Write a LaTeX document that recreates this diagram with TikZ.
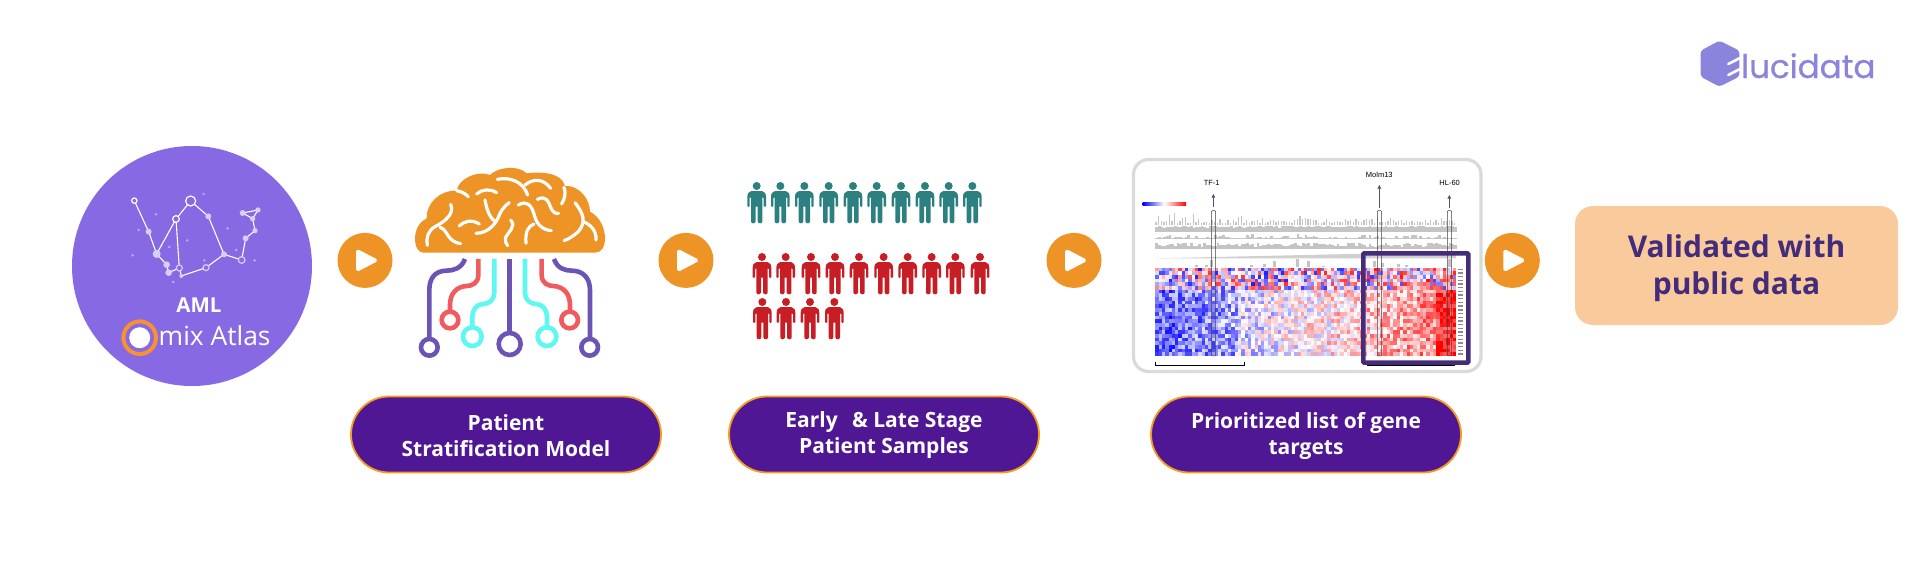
\documentclass[tikz,border=0pt]{standalone}
\usepackage{fontspec}
\setmainfont{Open Sans}
\newfontfamily\lab{Liberation Sans}
\newfontfamily\logo[FakeBold=0.5]{Poppins}
\usetikzlibrary{arrows.meta}
\definecolor{purp}{HTML}{8769E4}
\definecolor{lil}{HTML}{D5CEF5}
\definecolor{orng}{HTML}{EE9325}
\definecolor{ringc}{HTML}{F79233}
\definecolor{pillc}{HTML}{501795}
\definecolor{pilledge}{HTML}{F79A1E}
\definecolor{boxc}{HTML}{F9CB9C}
\definecolor{dark}{HTML}{452C7A}
\definecolor{logoc}{HTML}{8A84DC}
\definecolor{cvio}{HTML}{6C54B5}
\definecolor{cred}{HTML}{EF5B5E}
\definecolor{ccy}{HTML}{5FF7F2}
\definecolor{tealc}{HTML}{2C8080}
\definecolor{redm}{HTML}{C71D24}
\definecolor{framec}{HTML}{DADADA}
\definecolor{bars}{HTML}{C4C4C4}
\definecolor{ptrc}{HTML}{4A5870}
\tikzset{
  pillbox/.style={draw=pilledge,line width=1.8pt,fill=pillc,rounded corners=38pt,minimum width=310pt,minimum height=76pt,inner sep=0pt},
  pilltext/.style={text=white,align=center,inner sep=0pt,font=\fontsize{21}{26}\selectfont\bfseries},
  playbtn/.style={circle,fill=orng,minimum size=55pt,inner sep=0pt},
  wire/.style={line width=4.6pt},
  wring/.style={line width=4.6pt,fill=white},
  squig/.style={draw=white,line width=3.2pt,line cap=round,line join=round},
  cstar/.style={draw=white,line width=1.1pt,line join=round},
  cdot/.style={fill=lil},
  cringa/.style={draw=white,line width=1.2pt,fill=purp},
  cringb/.style={draw=lil,line width=1.2pt,fill=purp},
  speck/.style={fill=lil!70!purp},
  hlcol/.style={draw=black!75,line width=.5pt},
  ptr/.style={draw=ptrc,line width=.6pt,-{Triangle[length=3.5pt,width=3.5pt]}},
  tag/.style={font=\lab\fontsize{7.5}{8}\selectfont,text=black,inner sep=0pt}
}
\newcommand{\person}[3]{% x y colour, in px; anchored at head centre
 \begin{scope}[shift={(#1,#2)},x=0.3333pt,y=-0.3333pt]
  \fill[#3] (0,0) circle (12);
  \fill[#3] (-16,15) -- (16,15) .. controls (25,16) and (28,24) .. (28,34) -- (28,60) .. controls (28,64) and (21,64) .. (21,60) -- (21,36) -- (17,34) -- (17,106) .. controls (17,114) and (4,114) .. (3,106) -- (3,62) -- (-3,62) -- (-3,106) .. controls (-4,114) and (-17,114) .. (-17,106) -- (-17,34) -- (-21,36) -- (-21,60) .. controls (-21,64) and (-28,64) .. (-28,60) -- (-28,34) .. controls (-28,24) and (-25,16) .. (-16,15) -- cycle;
 \end{scope}}
\begin{document}
\begin{tikzpicture}[x=1pt,y=-1pt]
\useasboundingbox (0,0) rectangle (1920,574);
\fill[white] (0,0) rectangle (1920,574);

% ---------- circle ----------
\node[circle,fill=purp,minimum size=240pt,inner sep=0pt] (atlas) at (192,266) {};
\begin{scope}[shift={(50,130)},x=0.3333pt,y=-0.3333pt]
 \foreach \a/\b in {461/192,318/253,266/300,533/295,412/331,358/351,248/376,559/360,463/391,614/391,370/456}
   {\fill[speck] (\a,\b) circle (4);}
 \draw[cstar] (253,212) -- (296,305) -- (320,372) -- (350,404) -- (356,428) -- (388,414) -- (378,267) -- (320,372);
 \draw[cstar] (378,267) -- (422,213) -- (475,259) -- (522,373) -- (468,413) -- (394,438) -- (388,414);
 \draw[cstar] (522,373) -- (575,390) -- (587,325) -- (615,302) -- (608,266) -- (578,249) -- (624,240) -- (608,266);
 \foreach \a/\b/\q in {296/305/9,320/372/12,350/404/10,356/428/10,475/259/9,522/373/9,394/438/6,587/325/9,615/302/8,608/266/8,578/249/9,624/240/8}
   {\fill[cdot] (\a,\b) circle (\q);}
 \foreach \a/\b/\q in {253/212/8,378/267/10,422/213/15}
   {\draw[cringa] (\a,\b) circle (\q);}
 \foreach \a/\b/\q in {388/414/9,468/413/9,575/390/10}
   {\draw[cringb] (\a,\b) circle (\q);}
\end{scope}
\node[font=\fontsize{20.5}{21}\selectfont\bfseries,text=white,inner sep=0pt] (amltxt) at (199,305) {AML};
\draw[ringc,line width=4pt] (139.7,337.7) circle (16.3);
\fill[white] (139.7,337.7) circle (10.5);
\node[font=\fontsize{26.4}{28}\selectfont,text=white,inner sep=0pt,anchor=base west] (omix) at (158.5,345.5) {mix Atlas};

% ---------- brain ----------
\begin{scope}[shift={(390,150)},x=0.3333pt,y=-0.3333pt]
 \fill[orng] (100,308) .. controls (85,308) and (75,290) .. (75,265)
   .. controls (76,235) and (90,215) .. (110,205)
   .. controls (108,160) and (150,120) .. (200,122)
   .. controls (205,85) and (265,60) .. (300,75)
   .. controls (325,50) and (385,45) .. (410,70)
   .. controls (445,65) and (515,65) .. (525,108)
   .. controls (565,105) and (600,145) .. (600,185)
   .. controls (630,200) and (645,235) .. (645,265)
   .. controls (645,290) and (635,308) .. (615,308) -- cycle;
 \draw[squig] (200,122) .. controls (215,125) and (225,130) .. (235,140);
 \draw[squig] (260,132) .. controls (275,118) and (300,115) .. (320,128);
 \draw[squig] (322,88) .. controls (360,80) and (400,95) .. (413,135);
 \draw[squig] (405,105) .. controls (430,85) and (460,85) .. (482,115);
 \draw[squig] (522,112) .. controls (528,130) and (525,145) .. (515,162);
 \draw[squig] (442,148) .. controls (470,135) and (475,155) .. (482,172) .. controls (488,188) and (498,192) .. (506,190);
 \draw[squig] (385,165) .. controls (410,150) and (425,165) .. (433,195) .. controls (440,225) and (460,240) .. (484,242);
 \draw[squig] (432,222) .. controls (415,228) and (405,245) .. (408,280);
 \draw[squig] (285,150) .. controls (292,190) and (305,210) .. (318,215);
 \draw[squig] (258,250) .. controls (295,250) and (320,220) .. (330,190) .. controls (338,175) and (348,165) .. (358,158);
 \draw[squig] (362,210) .. controls (380,230) and (355,245) .. (347,262) .. controls (345,275) and (348,282) .. (353,287);
 \draw[squig] (208,228) .. controls (225,212) and (245,208) .. (268,222);
 \draw[squig] (182,163) .. controls (195,190) and (165,215) .. (135,230) .. controls (115,242) and (108,260) .. (112,286);
 \draw[squig] (150,232) .. controls (175,240) and (170,275) .. (212,281);
 \draw[squig] (555,158) .. controls (580,190) and (590,215) .. (565,245) .. controls (550,258) and (535,268) .. (522,272);
 \draw[squig] (580,215) .. controls (605,225) and (620,245) .. (618,270);
 % wires
 \draw[cvio,wire] (225,327) .. controls (215,355) and (190,362) .. (170,362) .. controls (135,362) and (118,385) .. (118,420) -- (118,565);
 \draw[cred,wire] (265,327) -- (265,375) .. controls (265,400) and (245,408) .. (230,408) .. controls (200,410) and (180,430) .. (180,465) -- (180,485);
 \draw[ccy,wire] (313,327) -- (313,430) .. controls (313,450) and (295,462) .. (280,462) .. controls (260,462) and (247,480) .. (247,500) -- (247,532);
 \draw[cvio,wire] (359,327) -- (359,548);
 \draw[ccy,wire] (405,327) -- (405,430) .. controls (405,450) and (422,462) .. (438,462) .. controls (458,462) and (471,480) .. (471,500) -- (471,532);
 \draw[cred,wire] (455,327) -- (455,375) .. controls (455,400) and (475,408) .. (490,408) .. controls (520,410) and (540,430) .. (540,465) -- (540,485);
 \draw[cvio,wire] (492,327) .. controls (502,355) and (525,362) .. (545,362) .. controls (580,362) and (600,385) .. (600,420) -- (600,565);
 \draw[cvio,wring] (118,592) circle (25);
 \draw[cred,wring] (180,510) circle (25);
 \draw[ccy,wring] (247,560) circle (28);
 \draw[cvio,wring] (359,582) circle (33);
 \draw[ccy,wring] (471,560) circle (28);
 \draw[cred,wring] (539,510) circle (25);
 \draw[cvio,wring] (599,592) circle (25);
\end{scope}

% ---------- people ----------
\foreach \a in {80,151,223,296,369,440,513,585,656,727}
  {\pgfmathsetmacro{\px}{\a/3+730}\person{\px}{186}{tealc}}
\foreach \a in {96,167,243,315,387,461,533,605,676,750}
  {\pgfmathsetmacro{\px}{\a/3+730}\person{\px}{257}{redm}}
\foreach \a in {97,168,240,313}
  {\pgfmathsetmacro{\px}{\a/3+730}\person{\px}{302}{redm}}

% ---------- heatmap ----------
\draw[framec,line width=3.2pt,fill=white,rounded corners=15pt] (1133.5,159.5) rectangle (1481,371.5);
\begin{scope}[shift={(1120,150)},x=0.3333pt,y=-0.3333pt]
 \pgfmathsetseed{7}
 % bars
 \foreach \i in {0,...,112}{
   \pgfmathsetmacro{\bx}{106+\i*8}
   \pgfmathsetmacro{\ba}{6+rnd*rnd*32}
   \pgfmathsetmacro{\bb}{13+rnd*6}
   \pgfmathsetmacro{\bc}{3+rnd*rnd*16}
   \pgfmathsetmacro{\bd}{7+rnd*11}
   \fill[bars] (\bx,225-\ba) rectangle ++(4,\ba);
   \fill[bars] (\bx,246-\bb) rectangle ++(8.2,\bb);
   \fill[bars] (\bx,268-\bc) rectangle ++(8.2,\bc);
   \fill[bars] (\bx,297-\bd) rectangle ++(8.2,\bd);
 }
 \fill[bars!80] (106,325) -- (1008,305) -- (1008,325) -- cycle;
 \foreach \a/\h in {225/5,256/5,270/20,390/4,428/7,458/16,528/22,560/16,606/2,760/18,782/12,830/8,856/6,985/22}
   {\fill[bars] (\a,350-\h) rectangle ++(9,\h);}
 % cells
 \foreach \rw in {0,...,23}{
   \foreach \cl in {0,...,90}{
    \pgfmathsetmacro{\vv}{(\rw>5 ? 1 : 0.25)*0.75*(\cl/90-0.47)+(\rw>5 ? (\cl>84 ? 0.3 : 0) : 0)+(\rw>5 ? (\cl<25 ? -0.12 : 0) : 0)+(\rw>5 ? 0.6 : 1.3)*(rnd-0.5)}
    \pgfmathsetmacro{\ww}{min(100,abs(\vv)*130)}
    \pgfmathsetmacro{\cx}{106+\cl*9.92}
    \pgfmathsetmacro{\cy}{353+\rw*11.05}
    \pgfmathparse{\vv>0 ? 1 : 0}
    \ifnum\pgfmathresult=1\relax
      \fill[red!\ww!white] (\cx,\cy) rectangle ++(10,11.1);
    \else
      \fill[blue!\ww!white] (\cx,\cy) rectangle ++(10,11.1);
    \fi
   }
   \pgfmathsetmacro{\cy}{358+\rw*11.05}
   \fill[black!45] (1014,\cy-2) rectangle (1030,\cy+2);
 }
 % legend
 \shade[left color=blue,right color=white] (68,158) rectangle (133,165);
 \shade[left color=white,right color=red] (133,158) rectangle (198,165);
 % bracket
 \draw[black,line width=.7pt] (106,635) -- (106,647) -- (372,647) -- (372,635);
 \draw[black,line width=.7pt] (742,647) -- (1005,647);
 % highlights
 \foreach \a in {274,772,982}
   {\draw[hlcol,rounded corners=1pt] (\a,182) rectangle (\a+13,618);}
 \coordinate (tfa) at (280,170); \coordinate (tfb) at (280,132);
 \coordinate (moa) at (778,175); \coordinate (mob) at (778,105);
 \coordinate (hla) at (988,175); \coordinate (hlb) at (988,135);
 \draw[ptr] (tfa) -- (tfb);
 \draw[ptr] (moa) -- (mob);
 \draw[ptr] (hla) -- (hlb);
 \node[tag] (tf) at (275,99) {TF-1};
 \node[tag] (mo) at (778,74) {Molm13};
 \node[tag] (hl) at (989,99) {HL-60};
 \draw[dark,line width=4.6pt,rounded corners=1pt] (730,310) rectangle (1045,638);
\end{scope}

% ---------- play buttons ----------
\foreach \nm/\a in {pa/365,pb/686,pc/1074,pd/1512.3}{
  \node[playbtn] (\nm) at (\a,260.4) {};
  \draw[white,line width=2pt,fill=white,line join=round,rounded corners=1.5pt] (\a-8,250) -- (\a+12,260.4) -- (\a-8,270.8) -- cycle;
}

% ---------- pills ----------
\node[pillbox] (p1) at (506,434.5) {};
\node[pilltext] (t1) at (506,435.5) {Patient\\Stratification Model};
\node[pillbox] (p2) at (884,434.5) {};
\node[pilltext] (t2) at (884,435.5) {Early \ \,\& Late Stage\\Patient Samples};
\node[pillbox] (p3) at (1306,434.5) {};
\node[pilltext] (t3) at (1306,435.5) {Prioritized list of gene\\targets};

% ---------- result box ----------
\node[fill=boxc,rounded corners=18pt,minimum width=323pt,minimum height=119pt,inner sep=0pt] (res) at (1736.5,265.5) {};
\node[inner sep=0pt,text=dark,align=center,font=\fontsize{30}{37}\selectfont\bfseries] (restxt) at (1736.5,268.5) {Validated with\\public data};

% ---------- logo ----------
\begin{scope}[shift={(1680,30)},x=0.3333pt,y=-0.3333pt]
 \fill[logoc,rounded corners=3pt] (118,32) -- (178,62) -- (178,140) -- (118,170) -- (62,140) -- (62,62) -- cycle;
 \draw[white,line width=2.6pt,line cap=round] (145,102) -- (178,85);
 \draw[white,line width=2.6pt,line cap=round] (145,135) -- (178,118);
\end{scope}
\node[font=\logo\fontsize{32.5}{33}\selectfont,text=logoc,inner sep=0pt,anchor=base west] (lg) at (1741,78) {lucidata};
\end{tikzpicture}
\end{document}
